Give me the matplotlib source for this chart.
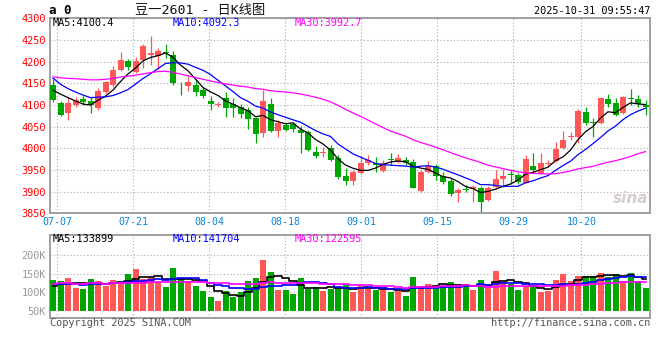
"""Sina daily K-line chart for DCE soybean No.1 (豆一2601), 2025-07-04 .. 2025-10-31.

Candles + MA5/MA10/MA30 on top, volume bars + volume MAs below.
"""

import matplotlib
matplotlib.use("Agg")
import matplotlib.pyplot as plt
import numpy as np
import pandas as pd

# --- data ----------------------------------------------------------------
OPEN = [4146, 4105, 4082, 4100, 4114, 4110, 4092, 4131, 4146, 4181,
        4201, 4177, 4204, 4215, 4213, 4222, 4215, 4147, 4144, 4146,
        4134, 4108, 4099, 4117, 4103, 4095, 4088, 4069, 4036, 4102,
        4041, 4054, 4056, 4043, 4038, 3992, 3988, 4000, 3977, 3937,
        3925, 3944, 3965, 3965, 3948, 3976, 3969, 3973, 3969, 3901,
        3946, 3960, 3937, 3925, 3896, 3905, 3906, 3909, 3881, 3911,
        3928, 3940, 3938, 3921, 3959, 3942, 3964, 3971, 4001, 4025,
        4025, 4083, 4060, 4058, 4114, 4104, 4081, 4117, 4114, 4100]
HIGH = [4160, 4108, 4118, 4119, 4120, 4119, 4138, 4156, 4190, 4223,
        4205, 4210, 4240, 4258, 4231, 4240, 4225, 4154, 4166, 4160,
        4142, 4120, 4106, 4130, 4115, 4102, 4096, 4073, 4135, 4117,
        4065, 4058, 4061, 4051, 4042, 4005, 4002, 4008, 3985, 3954,
        3950, 3982, 3985, 3981, 3973, 3990, 3987, 3981, 3975, 3950,
        3971, 3964, 3945, 3931, 3908, 3915, 3915, 3912, 3912, 3950,
        3953, 3950, 3942, 3985, 3988, 3988, 3973, 4015, 4041, 4038,
        4090, 4096, 4070, 4118, 4125, 4117, 4120, 4136, 4123, 4111]
LOW = [4106, 4074, 4065, 4096, 4100, 4081, 4088, 4128, 4142, 4178,
       4180, 4173, 4185, 4192, 4183, 4208, 4146, 4123, 4133, 4121,
       4115, 4088, 4096, 4073, 4073, 4070, 4044, 4013, 4025, 4038,
       4027, 4040, 4038, 3988, 3994, 3977, 3981, 3970, 3930, 3915,
       3916, 3940, 3962, 3946, 3945, 3962, 3965, 3962, 3908, 3900,
       3942, 3927, 3918, 3890, 3875, 3900, 3877, 3851, 3878, 3908,
       3910, 3918, 3918, 3919, 3942, 3940, 3962, 3968, 3998, 4019,
       4013, 4054, 4027, 4055, 4096, 4075, 4078, 4100, 4095, 4077]
CLOSE = [4112, 4077, 4105, 4111, 4106, 4100, 4133, 4152, 4181, 4204,
         4188, 4201, 4235, 4220, 4225, 4219, 4151, 4145, 4154, 4130,
         4121, 4102, 4102, 4092, 4092, 4080, 4067, 4033, 4108, 4041,
         4058, 4043, 4044, 4036, 3996, 3983, 3991, 3974, 3934, 3925,
         3946, 3967, 3973, 3961, 3967, 3974, 3978, 3965, 3909, 3946,
         3959, 3936, 3923, 3894, 3904, 3903, 3911, 3877, 3908, 3929,
         3936, 3938, 3923, 3975, 3950, 3967, 3967, 3998, 4019, 4029,
         4087, 4058, 4059, 4115, 4102, 4077, 4118, 4113, 4102, 4095]
VOLUME_K = [133, 130, 138, 112, 109, 136, 130, 118, 133, 121,
            149, 163, 135, 140, 127, 114, 165, 138, 130, 117,
            104, 88, 77, 103, 86, 101, 130, 138, 187, 155,
            106, 106, 95, 138, 109, 114, 103, 109, 115, 119,
            101, 119, 108, 106, 115, 101, 103, 91, 141, 118,
            122, 115, 115, 128, 119, 117, 106, 133, 122, 157,
            128, 122, 106, 117, 117, 101, 103, 133, 149, 130,
            144, 144, 144, 153, 142, 149, 130, 152, 130, 111]

# sessions before the window are off-chart; estimated from where the MA lines start
PRIOR_CLOSE = [4150, 4140, 4135, 4145, 4139,
               4130, 4120, 4112, 4118, 4125, 4135, 4140, 4139, 4150,
               4195, 4230, 4262, 4270, 4258, 4237,
               4220, 4205, 4190, 4175, 4160,
               4122, 4145, 4150, 4141]
PRIOR_VOLUME_K = [118, 126, 131, 120, 115, 128, 134, 122, 119, 125,
                  130, 121, 116, 127, 124, 129, 120, 123, 128, 128,
                  130, 122, 128, 119, 126,
                  110, 118, 112, 112]

# header readouts as printed on the chart
PRICE_MA_TEXT = {5: "4100.4", 10: "4092.3", 30: "3992.7"}
VOL_MA_TEXT = {5: "133899", 10: "141704", 30: "122595"}

DATE_LABELS = ["07-07", "07-21", "08-04", "08-18", "09-01", "09-15", "09-29", "10-20"]
DATE_INDEX = [1, 11, 21, 31, 41, 51, 61, 70]

PRICE_TICKS = list(range(3850, 4301, 50))
VOL_TICKS = [50, 100, 150, 200]
VOL_LABELS = ["50K", "100K", "150K", "200K"]

# --- style ----------------------------------------------------------------
UP = "#ff5656"
DOWN = "#00a600"
GRID = dict(color="#aaaaaa", ls=(0, (1, 2)), lw=0.8)
SPINE = "#999999"
MA_COLORS = {5: "black", 10: "#0000ff", 30: "#ff00ff"}
VOL_FLOOR = 50  # bars start at the 50K baseline

plt.rcParams["font.family"] = ["DejaVu Sans Mono", "Noto Sans CJK SC"]

W, H = 660, 360


def fx(px):
    return px / W


def fy(py):
    return 1 - py / H


o = np.array(OPEN)
h = np.array(HIGH)
l = np.array(LOW)
c = np.array(CLOSE)
v = np.array(VOLUME_K)
x = np.arange(len(c))
colors = np.where(c >= o, UP, DOWN)

closes_all = pd.Series(PRIOR_CLOSE + CLOSE, dtype=float)
vols_all = pd.Series(PRIOR_VOLUME_K + VOLUME_K, dtype=float)
n_prior = len(PRIOR_CLOSE)

fig = plt.figure(figsize=(W / 100, H / 100), dpi=100)
ax = fig.add_axes([fx(50), fy(213.3), fx(600), 195 / H])
axv = fig.add_axes([fx(50), fy(318.3), fx(600), 83.3 / H])

# Sina's grid spacing runs a hair wider than the bar pitch
grid_x = np.array(DATE_INDEX) * 1.0126 - 0.443

# --- price panel -----------------------------------------------------------
ax.vlines(x, l, h, colors=colors, lw=0.9, zorder=2)
body_lo = np.minimum(o, c)
body_h = np.maximum(np.abs(c - o), 2.0)
ax.bar(x, body_h, bottom=body_lo, width=0.8, color=colors, lw=0, zorder=3)

for n, col in MA_COLORS.items():
    ma = closes_all.rolling(n).mean().to_numpy()[n_prior:]
    ax.plot(x, ma, color=col, lw=0.9, zorder=4)

ax.set_xlim(-0.4, 79.6)
ax.set_ylim(3850, 4300)
ax.set_yticks(PRICE_TICKS)
ax.set_xticks(grid_x)
ax.set_xticklabels(DATE_LABELS)
ax.tick_params(axis="y", length=0, pad=3, colors="#ff0000", labelsize=7.4)
ax.tick_params(axis="x", length=0, pad=3, colors="#0a86dc", labelsize=7.2)
ax.grid(True, **GRID)
ax.set_axisbelow(True)

ax.text(0.997, 0.035, "sina", transform=ax.transAxes, ha="right", va="bottom",
        fontsize=11, fontweight="bold", style="italic", color="#d6cccc",
        family="DejaVu Sans", zorder=1)

# --- volume panel ----------------------------------------------------------
axv.bar(x, v - VOL_FLOOR, bottom=VOL_FLOOR, width=0.8, color=colors, lw=0, zorder=3)
for n, col in MA_COLORS.items():
    ma = vols_all.rolling(n).mean().to_numpy()[n_prior:]
    axv.plot(x, ma, color=col, lw=1.2, drawstyle="steps-mid", zorder=4)

axv.set_xlim(-0.4, 79.6)
axv.set_ylim(VOL_FLOOR - 7.6 * 2.7, VOL_FLOOR + 75.7 * 2.7)
axv.set_yticks(VOL_TICKS)
axv.set_yticklabels(VOL_LABELS)
axv.set_xticks(grid_x)
axv.set_xticklabels([])
axv.tick_params(axis="y", length=0, pad=3, colors="#999999", labelsize=7.4)
axv.tick_params(axis="x", length=0)
axv.grid(True, **GRID)
axv.set_axisbelow(True)
axv.yaxis.get_gridlines()[0].set_visible(False)

for a in (ax, axv):
    for s in a.spines.values():
        s.set_color(SPINE)
        s.set_linewidth(1.3)

# --- texts -----------------------------------------------------------------
fig.text(fx(49), fy(10.5), "a 0", fontsize=9, fontweight="bold", va="center")
fig.text(fx(200), fy(10.5), "豆一2601 - 日K线图", fontsize=9.5, ha="center",
         va="center", color="#111111")
fig.text(fx(650), fy(11), "2025-10-31 09:55:47", fontsize=7.4, ha="right", va="center")

for (n, col), px in zip(MA_COLORS.items(), (53, 173, 295)):
    fig.text(fx(px), fy(23.5), f"MA{n}:{PRICE_MA_TEXT[n]}", color=col, fontsize=7.4, va="center")
    fig.text(fx(px), fy(238.5), f"MA{n}:{VOL_MA_TEXT[n]}", color=col, fontsize=7.4, va="center")

fig.text(fx(50), fy(323.5), "Copyright 2025 SINA.COM", color="#555555", fontsize=7.4, va="center")
fig.text(fx(650), fy(323.5), "http://finance.sina.com.cn", color="#555555", fontsize=7.4,
         ha="right", va="center")

fig.savefig("out.png", dpi=100)
